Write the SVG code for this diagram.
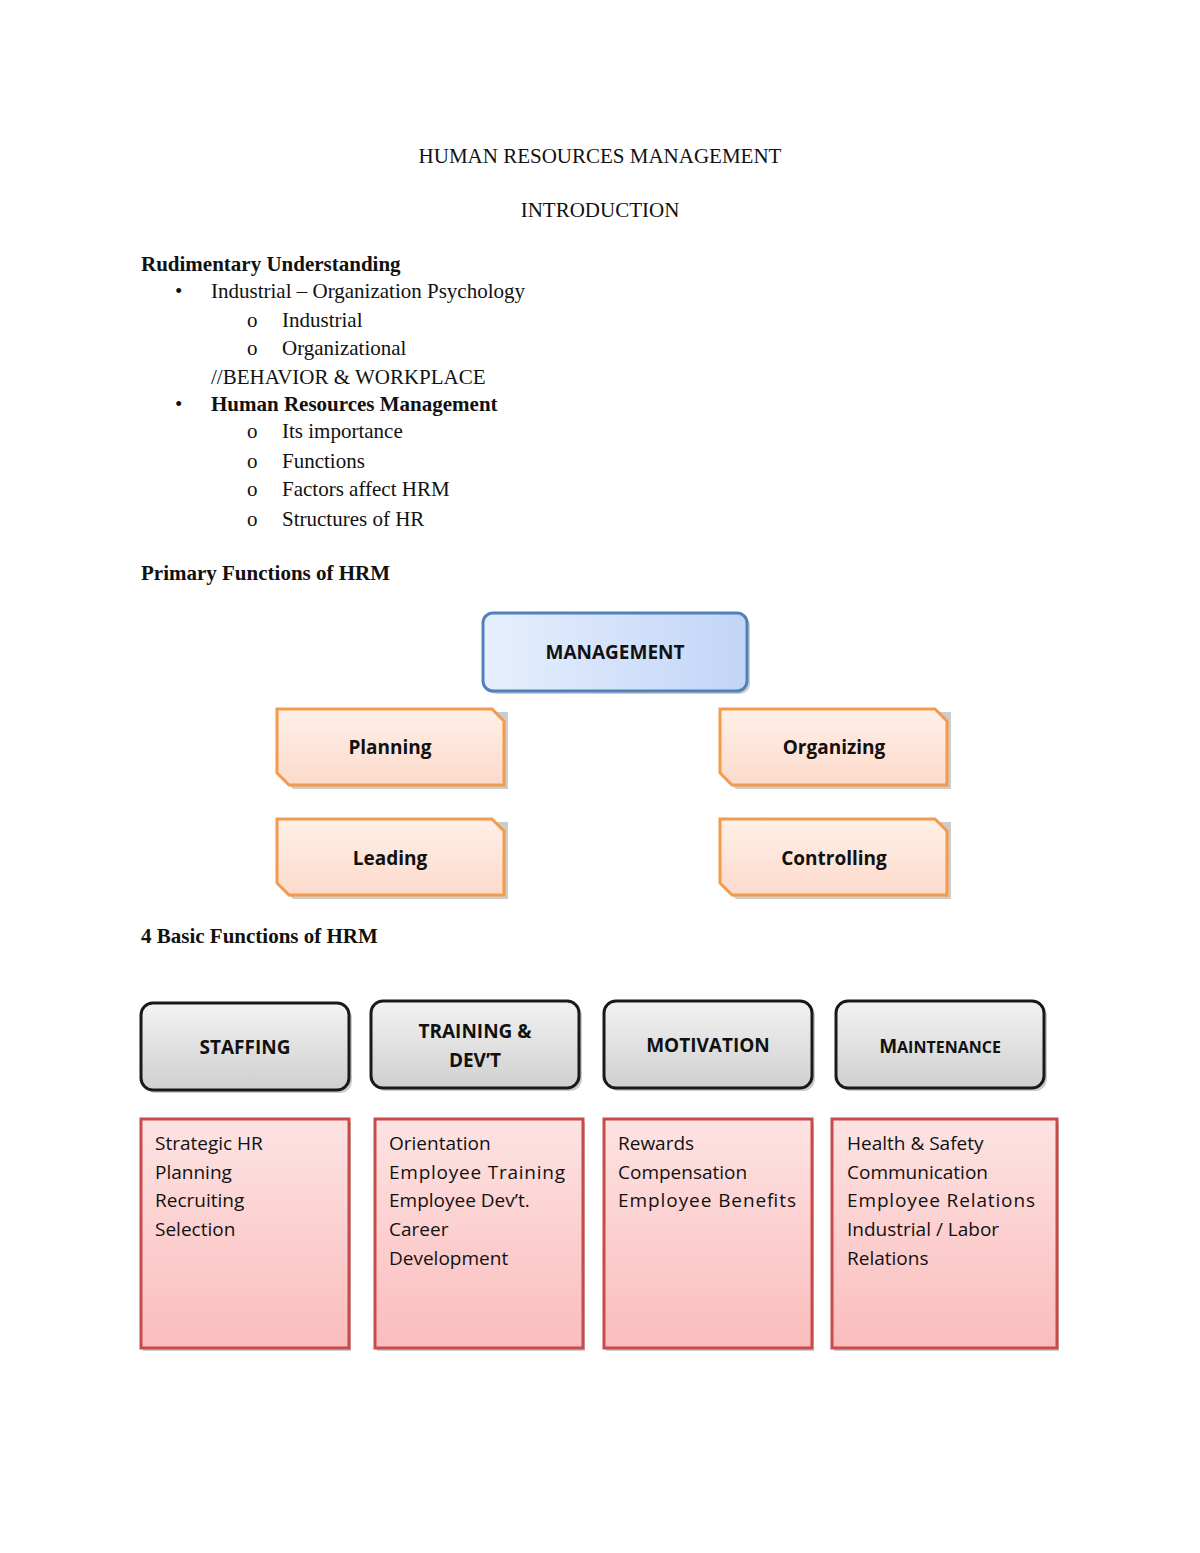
<svg xmlns="http://www.w3.org/2000/svg" width="1200" height="1553" viewBox="0 0 1200 1553">
<defs>
<linearGradient id="gb" x1="0" y1="0" x2="1" y2="0"><stop offset="0" stop-color="#e6effd"/><stop offset="1" stop-color="#c2d5f7"/></linearGradient>
<linearGradient id="go" x1="0" y1="0" x2="0" y2="1"><stop offset="0" stop-color="#fff0e8"/><stop offset="1" stop-color="#fcdacb"/></linearGradient>
<linearGradient id="gg" x1="0" y1="0" x2="0" y2="1"><stop offset="0" stop-color="#f3f3f3"/><stop offset="1" stop-color="#cfcfcf"/></linearGradient>
<linearGradient id="gp" x1="0" y1="0" x2="0" y2="1"><stop offset="0" stop-color="#fde3e3"/><stop offset="1" stop-color="#fbbcbc"/></linearGradient>
</defs>
<style>
.s{font-family:"Liberation Serif",serif;font-size:21px;fill:#111}
.b{font-weight:bold}
.c{font-family:"Open Sans","Liberation Sans",sans-serif;font-size:19px;fill:#111}
.h{font-weight:bold;text-anchor:middle}
.or{fill:url(#go);stroke:#f39a4b;stroke-width:3}
.gr{fill:url(#gg);stroke:#1a1a1a;stroke-width:3}
.pk{fill:url(#gp);stroke:#c94a4a;stroke-width:3}
.sh{fill:#999;opacity:0.5}
</style>
<rect width="1200" height="1553" fill="#fff"/>
<g id="text">
<text class="s" x="600" y="163" text-anchor="middle">HUMAN RESOURCES MANAGEMENT</text>
<text class="s" x="600" y="217" text-anchor="middle">INTRODUCTION</text>
<text class="s b" x="141" y="271">Rudimentary Understanding</text>
<text class="s" x="175" y="298">•</text><text class="s" x="211" y="298">Industrial – Organization Psychology</text>
<text class="s" x="247" y="327">o</text><text class="s" x="282" y="327">Industrial</text>
<text class="s" x="247" y="355">o</text><text class="s" x="282" y="355">Organizational</text>
<text class="s" x="211" y="384">//BEHAVIOR &amp; WORKPLACE</text>
<text class="s" x="175" y="411">•</text><text class="s b" x="211" y="411">Human Resources Management</text>
<text class="s" x="247" y="438">o</text><text class="s" x="282" y="438">Its importance</text>
<text class="s" x="247" y="468">o</text><text class="s" x="282" y="468">Functions</text>
<text class="s" x="247" y="496">o</text><text class="s" x="282" y="496">Factors affect HRM</text>
<text class="s" x="247" y="526">o</text><text class="s" x="282" y="526">Structures of HR</text>
<text class="s b" x="141" y="580">Primary Functions of HRM</text>
<text class="s b" x="141" y="943">4 Basic Functions of HRM</text>
</g>
<g id="connectors"></g>
<g id="management">
<rect x="486" y="616" width="264" height="78" rx="10" class="sh"/>
<rect x="483" y="613" width="264" height="78" rx="10" fill="url(#gb)" stroke="#4f81bd" stroke-width="3"/>
<text class="c h" x="615" y="659">MANAGEMENT</text>
</g>
<g id="planning"><path d="M280 712h228v77h-215l-13-13z" class="sh"/><path d="M277 709h215l12 12v64h-215l-12-12z" class="or"/><text class="c h" x="390" y="754">Planning</text></g>
<g id="organizing"><path d="M723 712h228v77h-215l-13-13z" class="sh"/><path d="M720 709h215l12 12v64h-215l-12-12z" class="or"/><text class="c h" x="834" y="754">Organizing</text></g>
<g id="leading"><path d="M280 822h228v77h-215l-13-13z" class="sh"/><path d="M277 819h215l12 12v64h-215l-12-12z" class="or"/><text class="c h" x="390" y="865">Leading</text></g>
<g id="controlling"><path d="M723 822h228v77h-215l-13-13z" class="sh"/><path d="M720 819h215l12 12v64h-215l-12-12z" class="or"/><text class="c h" x="834" y="865">Controlling</text></g>
<g id="staffing"><rect x="144" y="1006" width="208" height="87" rx="12" class="sh"/><rect x="141" y="1003" width="208" height="87" rx="12" class="gr"/><text class="c h" x="245" y="1054">STAFFING</text></g>
<g id="training"><rect x="374" y="1004" width="208" height="87" rx="12" class="sh"/><rect x="371" y="1001" width="208" height="87" rx="12" class="gr"/><text class="c h" x="475" y="1038">TRAINING &amp;</text><text class="c h" x="475" y="1067">DEV’T</text></g>
<g id="motivation"><rect x="607" y="1004" width="208" height="87" rx="12" class="sh"/><rect x="604" y="1001" width="208" height="87" rx="12" class="gr"/><text class="c h" x="708" y="1052">MOTIVATION</text></g>
<g id="maintenance"><rect x="839" y="1004" width="208" height="87" rx="12" class="sh"/><rect x="836" y="1001" width="208" height="87" rx="12" class="gr"/><text class="c h" x="940" y="1053"><tspan>M</tspan><tspan font-size="16">AINTENANCE</tspan></text></g>
<g id="staffing-list"><rect x="143" y="1122" width="208" height="229" class="sh"/><rect x="141" y="1119" width="208" height="229" class="pk"/>
<text class="c" x="155" y="1150">Strategic HR</text><text class="c" x="155" y="1179">Planning</text><text class="c" x="155" y="1207">Recruiting</text><text class="c" x="155" y="1236">Selection</text></g>
<g id="training-list"><rect x="377" y="1122" width="208" height="229" class="sh"/><rect x="375" y="1119" width="208" height="229" class="pk"/>
<text class="c" x="389" y="1150">Orientation</text><text class="c" x="389" y="1179" textLength="176">Employee Training</text><text class="c" x="389" y="1207">Employee Dev’t.</text><text class="c" x="389" y="1236">Career</text><text class="c" x="389" y="1265">Development</text></g>
<g id="motivation-list"><rect x="606" y="1122" width="208" height="229" class="sh"/><rect x="604" y="1119" width="208" height="229" class="pk"/>
<text class="c" x="618" y="1150">Rewards</text><text class="c" x="618" y="1179">Compensation</text><text class="c" x="618" y="1207" textLength="178">Employee Benefits</text></g>
<g id="maintenance-list"><rect x="834" y="1122" width="225" height="229" class="sh"/><rect x="832" y="1119" width="225" height="229" class="pk"/>
<text class="c" x="847" y="1150">Health &amp; Safety</text><text class="c" x="847" y="1179">Communication</text><text class="c" x="847" y="1207" textLength="188">Employee Relations</text><text class="c" x="847" y="1236">Industrial / Labor</text><text class="c" x="847" y="1265">Relations</text></g>
</svg>
